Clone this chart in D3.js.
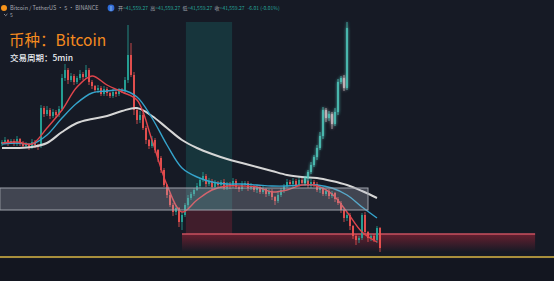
<!DOCTYPE html>
<html>
<head>
<meta charset="utf-8">
<script src="https://cdn.jsdelivr.net/npm/d3@7"></script>
<style>
  html, body { margin: 0; padding: 0; background: #161a25; overflow: hidden; }
  svg { display: block; }
</style>
</head>
<body>
<div id="chart"></div>
<script>
// BTCUSDT 5min candles (close prices), open = previous close
const firstOpen = 41116;
const closes = [
  41118, 41120, 41117, 41119, 41116, 41121, 41117, 41114, 41116, 41113,
  41118, 41115, 41114, 41152, 41146, 41150, 41144, 41148, 41145, 41151,
  41182, 41190, 41180, 41184, 41178, 41182, 41186, 41183, 41190, 41178,
  41174, 41170, 41172, 41166, 41171, 41167, 41164, 41168, 41166, 41170,
  41169, 41180, 41205, 41185, 41150, 41140, 41145, 41132, 41120, 41114,
  41120, 41110, 41102, 41090, 41075, 41065, 41055, 41048, 41052, 41038,
  41045, 41055, 41062, 41066, 41070, 41074, 41080, 41084, 41076, 41079,
  41073, 41077, 41075, 41078, 41072, 41076, 41074, 41079, 41073, 41071,
  41076, 41077, 41072, 41074, 41070, 41073, 41068, 41071, 41066, 41069,
  41063, 41059, 41065, 41070, 41074, 41078, 41076, 41079, 41075, 41080,
  41077, 41079, 41074, 41078, 41076, 41070, 41072, 41066, 41069, 41064,
  41067, 41061, 41057, 41050, 41042, 41045, 41034, 41024, 41020, 41022,
  41045, 41028, 41022, 41024, 41020, 41032, 41012
];
const wickHi = [
  2, 3, 1, 2, 2, 3, 1, 2, 2, 1,
  3, 2, 1, 3, 2, 4, 2, 3, 2, 3,
  4, 6, 2, 3, 2, 2, 4, 2, 5, 2,
  2, 1, 3, 2, 3, 2, 1, 3, 2, 2,
  2, 3, 30, 12, 3, 2, 4, 2, 2, 1,
  4, 2, 1, 2, 2, 1, 2, 2, 3, 1,
  3, 2, 3, 2, 2, 3, 2, 4, 2, 3,
  2, 3, 2, 2, 3, 2, 2, 3, 2, 1,
  3, 2, 2, 3, 1, 2, 2, 3, 1, 2,
  2, 1, 3, 2, 2, 3, 2, 3, 2, 3,
  2, 2, 1, 3, 2, 2, 2, 1, 2, 2,
  2, 1, 2, 2, 1, 3, 2, 1, 2, 2,
  2, 3, 1, 2, 2, 2, 1
];
const wickLo = [
  2, 2, 3, 1, 2, 2, 3, 2, 1, 3,
  2, 3, 4, 2, 3, 2, 3, 2, 3, 2,
  2, 3, 4, 2, 3, 2, 2, 3, 2, 3,
  3, 2, 3, 2, 2, 3, 2, 2, 3, 2,
  2, 2, 3, 2, 5, 4, 3, 2, 4, 3,
  2, 3, 4, 3, 2, 3, 2, 4, 3, 5,
  8, 2, 3, 2, 2, 1, 2, 2, 3, 2,
  3, 2, 2, 3, 2, 2, 3, 2, 2, 3,
  2, 2, 3, 2, 2, 3, 2, 2, 3, 2,
  3, 4, 2, 2, 3, 2, 2, 3, 2, 2,
  2, 3, 2, 2, 3, 2, 3, 2, 2, 3,
  2, 3, 2, 3, 4, 3, 4, 3, 5, 3,
  2, 3, 4, 3, 2, 3, 4
];

// overlaid rally (projection), starts at candle 101
const rallyStart = 101;
const rallyOpen = 41077;
const rallyCloses = [41082, 41088, 41095, 41103, 41112, 41124, 41150, 41142, 41146, 41136, 41148, 41178, 41182, 41172, 41232];
const rallyHi = [2, 2, 3, 2, 3, 4, 3, 2, 3, 2, 4, 3, 2, 3, 6];
const rallyLo = [2, 3, 2, 2, 3, 2, 3, 4, 3, 5, 2, 3, 2, 3, 2];

// moving averages, one value every 5 candles
const maStep = 5;
const maFast = [41117, 41118, 41116, 41132, 41150, 41173, 41184, 41175, 41168, 41160, 41120, 41075, 41048,
  41060, 41070, 41074, 41074, 41073, 41068, 41070, 41075, 41074, 41066, 41048, 41028, 41018];
const maMid = [41116, 41117, 41116, 41125, 41142, 41157, 41167, 41169, 41170, 41163, 41142, 41115, 41092,
  41083, 41078, 41076, 41076, 41075, 41074, 41074, 41075, 41075, 41072, 41065, 41053, 41042];
const maSlow = [41112, 41112, 41113, 41117, 41128, 41137, 41141, 41144, 41149, 41152, 41144, 41132, 41120,
  41112, 41106, 41101, 41097, 41093, 41089, 41085, 41083, 41082, 41079, 41075, 41069, 41062];

// zones (candle index / price)
const entryZone = { from: 61.3, to: 76.7, top: 41238, bottom: 41050 };
const grayBox = { from: -0.7, to: 122, top: 41072, bottom: 41050 };
const lossBox = { from: 61.3, to: 76.7, top: 41050, bottom: 41026 };
const lossLine = { from: 60, to: 177.7, price: 41026, fade: 41008 };
const goldLine = 41003;

const ohlcLabels = ['开', '高', '低', '收'];
const ohlcValues = ['41,559.27', '41,559.27', '41,559.27', '41,559.27'];
const changeText = '-6.01 (-0.01%)';

const W = 554, H = 281;
const svg = d3.select('#chart').append('svg').attr('width', W).attr('height', H);

const x = d3.scaleLinear().domain([0, closes.length - 1]).range([2, 380]);
const y = d3.scaleLinear().domain([41000, 41240]).range([260, 20]);

const defs = svg.append('defs');
const grad = defs.append('linearGradient').attr('id', 'redFade').attr('x1', 0).attr('x2', 0).attr('y1', 0).attr('y2', 1);
grad.append('stop').attr('offset', 0).attr('stop-color', '#a82438').attr('stop-opacity', 0.55);
grad.append('stop').attr('offset', 1).attr('stop-color', '#a82438').attr('stop-opacity', 0);
const glow = defs.append('filter').attr('id', 'glow').attr('x', '-50%').attr('y', '-10%').attr('width', '200%').attr('height', '120%');
glow.append('feGaussianBlur').attr('stdDeviation', 1.6).attr('result', 'b');
const fm = glow.append('feMerge');
fm.append('feMergeNode').attr('in', 'b');
fm.append('feMergeNode').attr('in', 'SourceGraphic');

svg.append('rect').attr('width', W).attr('height', H).attr('fill', '#161a25');
svg.append('rect').attr('y', y(goldLine) + 2).attr('width', W).attr('height', H).attr('fill', '#131620');

// entry zone (teal)
svg.append('rect')
  .attr('x', x(entryZone.from)).attr('width', x(entryZone.to) - x(entryZone.from))
  .attr('y', y(entryZone.top)).attr('height', y(entryZone.bottom) - y(entryZone.top))
  .attr('fill', '#1f8f84').attr('opacity', 0.24);

// stop zone (red)
svg.append('rect')
  .attr('x', x(lossBox.from)).attr('width', x(lossBox.to) - x(lossBox.from))
  .attr('y', y(lossBox.top)).attr('height', y(lossBox.bottom) - y(lossBox.top))
  .attr('fill', '#c0283f').attr('opacity', 0.25);
svg.append('rect')
  .attr('x', x(lossLine.from)).attr('width', x(lossLine.to) - x(lossLine.from))
  .attr('y', y(lossLine.price)).attr('height', y(lossLine.fade) - y(lossLine.price))
  .attr('fill', 'url(#redFade)');
svg.append('line')
  .attr('x1', x(lossLine.from)).attr('x2', x(lossLine.to))
  .attr('y1', y(lossLine.price)).attr('y2', y(lossLine.price))
  .attr('stroke', '#c9505f').attr('stroke-width', 1.5);

// candles
const candles = closes.map((c, i) => {
  const o = i === 0 ? firstOpen : closes[i - 1];
  return { i, o, c, h: Math.max(o, c) + wickHi[i], l: Math.min(o, c) - wickLo[i] };
});
function drawCandles(g, data, up, down, bw) {
  const sel = g.selectAll('g').data(data).enter().append('g');
  sel.append('line')
    .attr('x1', d => x(d.i)).attr('x2', d => x(d.i))
    .attr('y1', d => y(d.h)).attr('y2', d => y(d.l))
    .attr('stroke', d => d.c >= d.o ? up : down).attr('stroke-width', 0.8);
  sel.append('rect')
    .attr('x', d => x(d.i) - bw / 2).attr('width', bw)
    .attr('y', d => y(Math.max(d.o, d.c)))
    .attr('height', d => Math.max(1, Math.abs(y(d.o) - y(d.c))))
    .attr('fill', d => d.c >= d.o ? up : down);
}
drawCandles(svg.append('g'), candles, '#26a69a', '#ef5350', 1.8);

// moving averages
const line = d3.line().x(d => x(d[0])).y(d => y(d[1])).curve(d3.curveCatmullRom.alpha(0.5));
const maData = arr => arr.map((v, k) => [k * maStep, v]);
svg.append('path').datum(maData(maSlow)).attr('d', line)
  .attr('fill', 'none').attr('stroke', '#d6d6d6').attr('stroke-width', 2);
svg.append('path').datum(maData(maMid)).attr('d', line)
  .attr('fill', 'none').attr('stroke', '#35a4cc').attr('stroke-width', 1.4);
svg.append('path').datum(maData(maFast)).attr('d', line)
  .attr('fill', 'none').attr('stroke', '#e0454c').attr('stroke-width', 1.4);

// rally overlay
const rally = rallyCloses.map((c, k) => {
  const o = k === 0 ? rallyOpen : rallyCloses[k - 1];
  return { i: rallyStart + k, o, c, h: Math.max(o, c) + rallyHi[k], l: Math.min(o, c) - rallyLo[k] };
});
drawCandles(svg.append('g').attr('filter', 'url(#glow)').attr('opacity', 0.9), rally, '#52cfc3', '#d9c4c8', 1.8);

// gray range box
svg.append('rect')
  .attr('x', x(grayBox.from)).attr('width', x(grayBox.to) - x(grayBox.from))
  .attr('y', y(grayBox.top)).attr('height', y(grayBox.bottom) - y(grayBox.top))
  .attr('fill', '#b4b8c4').attr('fill-opacity', 0.28)
  .attr('stroke', '#9ea2ab').attr('stroke-width', 1);

// gold line
svg.append('line').attr('x1', 0).attr('x2', W)
  .attr('y1', y(goldLine)).attr('y2', y(goldLine))
  .attr('stroke', '#a88f3c').attr('stroke-width', 2);

// header
const font = "'Noto Sans CJK SC', 'Noto Sans', sans-serif";
svg.append('circle').attr('cx', 4).attr('cy', 8).attr('r', 3).attr('fill', '#f7931a');
svg.append('text').attr('x', 10).attr('y', 10).attr('font-family', font).attr('font-size', 5.5)
  .attr('fill', '#a4a7b0').text('Bitcoin / TetherUS · 5 · BINANCE');
svg.append('circle').attr('cx', 111).attr('cy', 8).attr('r', 3.4).attr('fill', '#2f6bd8');
svg.append('text').attr('x', 111).attr('y', 9.8).attr('text-anchor', 'middle')
  .attr('font-family', font).attr('font-size', 4.5).attr('fill', '#dfe6f5').text('||');
const ohlc = svg.append('text').attr('x', 118).attr('y', 10).attr('font-family', font).attr('font-size', 5);
ohlcLabels.forEach((lab, k) => {
  ohlc.append('tspan').attr('dx', k === 0 ? 0 : 2.2).attr('fill', '#a4a7b0').text(lab);
  ohlc.append('tspan').attr('fill', '#26a69a').text('=' + ohlcValues[k]);
});
ohlc.append('tspan').attr('dx', 3).attr('fill', '#26a69a').text(changeText);
svg.append('path').attr('d', 'M4,14 L5.7,15.7 L7.4,14').attr('fill', 'none').attr('stroke', '#a4a7b0').attr('stroke-width', 0.8);
svg.append('text').attr('x', 10).attr('y', 16.5).attr('font-family', font).attr('font-size', 5)
  .attr('fill', '#a4a7b0').text('5');

// title
svg.append('text').attr('x', 9).attr('y', 46).attr('font-family', font).attr('font-size', 15.5)
  .attr('fill', '#f58a1f').text('币种：Bitcoin');
svg.append('text').attr('x', 10).attr('y', 61).attr('font-family', font).attr('font-size', 8.5)
  .attr('font-weight', 500).attr('fill', '#eceef2').text('交易周期：5min');
</script>
</body>
</html>
